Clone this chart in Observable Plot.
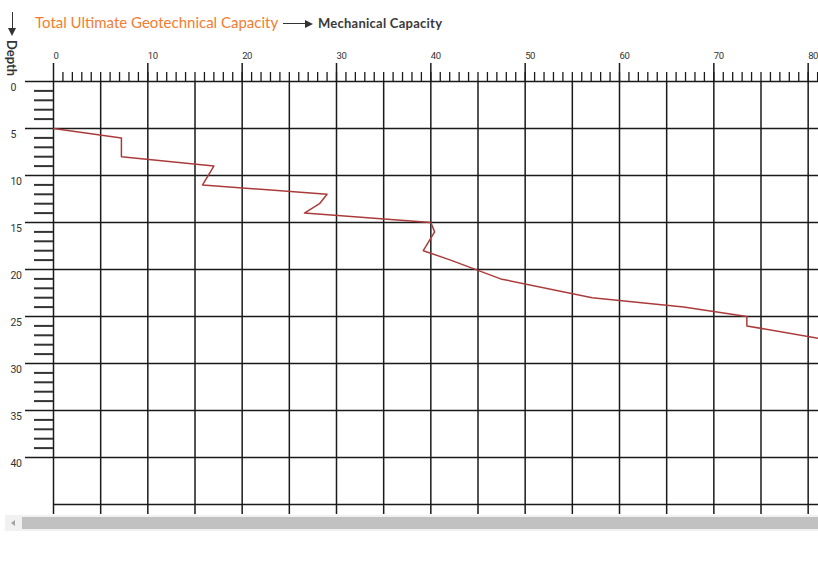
<!DOCTYPE html>
<html><head><meta charset="utf-8">
<script src="https://cdn.jsdelivr.net/npm/d3@7"></script>
<script src="https://cdn.jsdelivr.net/npm/@observablehq/plot@0.6"></script>
<style>
html,body{margin:0;padding:0;background:#fff;overflow:hidden;width:818px;height:563px;}
#wrap{position:relative;width:818px;height:563px;overflow:hidden;}
#title{position:absolute;left:35px;top:13px;font-family:Lato,"Open Sans",sans-serif;font-size:15px;color:#f47c30;white-space:nowrap;}
#arrowR{position:absolute;left:283px;top:23px;width:24px;height:0;border-top:1.5px solid #333;}
#arrowRhead{position:absolute;left:305px;top:19.5px;width:0;height:0;border-top:4.5px solid transparent;border-bottom:4.5px solid transparent;border-left:8px solid #333;}
#mech{position:absolute;left:318px;top:15px;font-family:Lato,"Open Sans",sans-serif;font-weight:bold;font-size:13px;letter-spacing:0.25px;color:#3a3a3a;white-space:nowrap;}
#arrowD{position:absolute;left:11.5px;top:12px;width:0;height:20px;border-left:1.5px solid #333;}
#arrowDhead{position:absolute;left:8px;top:28px;width:0;height:0;border-left:4.5px solid transparent;border-right:4.5px solid transparent;border-top:8px solid #333;}
#depth{position:absolute;left:4px;top:40px;writing-mode:vertical-rl;font-family:Lato,"Open Sans",sans-serif;font-weight:bold;font-size:13px;color:#333;}
#chart{position:absolute;left:0;top:45px;}
#chart svg{max-width:none !important;}
#chart text{letter-spacing:-0.4px;}
#track{position:absolute;left:5px;top:515px;width:813px;height:16px;background:#f1f1f1;}
#thumb{position:absolute;left:22px;top:517px;width:796px;height:12px;background:#c1c1c1;}
#larrow{position:absolute;left:11px;top:519.5px;width:0;height:0;border-top:3.5px solid transparent;border-bottom:3.5px solid transparent;border-right:4px solid #a3a3a3;}
</style></head>
<body><div id="wrap">
<div id="title">Total Ultimate Geotechnical Capacity</div>
<div id="arrowR"></div><div id="arrowRhead"></div>
<div id="mech">Mechanical Capacity</div>
<div id="arrowD"></div><div id="arrowDhead"></div>
<div id="depth">Depth</div>
<div id="chart"></div>
<div id="track"></div><div id="thumb"></div><div id="larrow"></div>
</div>
<script>
// Data: capacity (x) vs depth (y)
const depth    = [5, 6, 8, 9, 11, 12, 13, 14, 15, 16, 18, 19, 21, 23, 24, 25, 26, 28];
const capacity = [0, 7.2, 7.2, 17, 15.8, 29, 28.2, 26.6, 40, 40.4, 39.2, 42.1, 47.4, 57.1, 66.8, 73.5, 73.5, 85];

// Axis ticks and labels
const xLabels = [0, 10, 20, 30, 40, 50, 60, 70, 80];
const xGrid = d3.range(0, 91, 5);
const xMinor = d3.range(1, 91, 1);
const depthLabels = [0, 5, 10, 15, 20, 25, 30, 35, 40];
const depthGrid = [0, 5, 10, 15, 20, 25, 30, 35, 40];
const depthBottom = [45];
const depthMinor = d3.range(1, 40).filter(d => d % 5 !== 0);

const pts = depth.map((d, i) => ({depth: d, capacity: capacity[i]}));

const gridColor = "#1a1a1a";
const chart = Plot.plot({
  width: 902,
  height: 470,
  marginTop: 36,
  marginBottom: 11,
  marginLeft: 53,
  marginRight: 0,
  x: {domain: [0, 90], axis: null},
  y: {domain: [0, 45], reverse: true, axis: null},
  style: {fontFamily: "Roboto, 'Open Sans', sans-serif", fontSize: "10.5px", background: "transparent", overflow: "visible", maxWidth: "none"},
  marks: [
    Plot.ruleY(depthGrid, {y: d => d, insetLeft: -28, stroke: gridColor, strokeWidth: 1.5}),
    Plot.ruleY(depthBottom, {y: d => d, stroke: gridColor, strokeWidth: 1.5}),
    Plot.ruleX(xGrid, {x: d => d, insetBottom: -10, stroke: gridColor, strokeWidth: 1.5}),
    Plot.ruleX(xLabels, {x: d => d, y1: 0, y2: 0, insetTop: -18, stroke: gridColor, strokeWidth: 1.5}),
    Plot.ruleX(xMinor, {x: d => d, y1: 0, y2: 0, insetTop: -9, stroke: gridColor, strokeWidth: 1.3}),
    Plot.ruleY(depthMinor, {y: d => d, x1: 0, x2: 0, insetLeft: -19, stroke: "#333", strokeWidth: 2}),
    Plot.text(xLabels, {x: d => d, y: 0, text: d => String(d), dy: -26, dx: 0, fontSize: 9.5, textAnchor: "start", fill: "#333"}),
    Plot.text(depthLabels, {y: d => d, frameAnchor: "left", text: d => String(d), dx: -43, dy: 6.5, textAnchor: "start", fill: "#333"}),
    Plot.line(pts, {x: "capacity", y: "depth", stroke: "#ab3b3b", strokeWidth: 1.5})
  ]
});
document.getElementById("chart").appendChild(chart);
</script>
</body></html>
